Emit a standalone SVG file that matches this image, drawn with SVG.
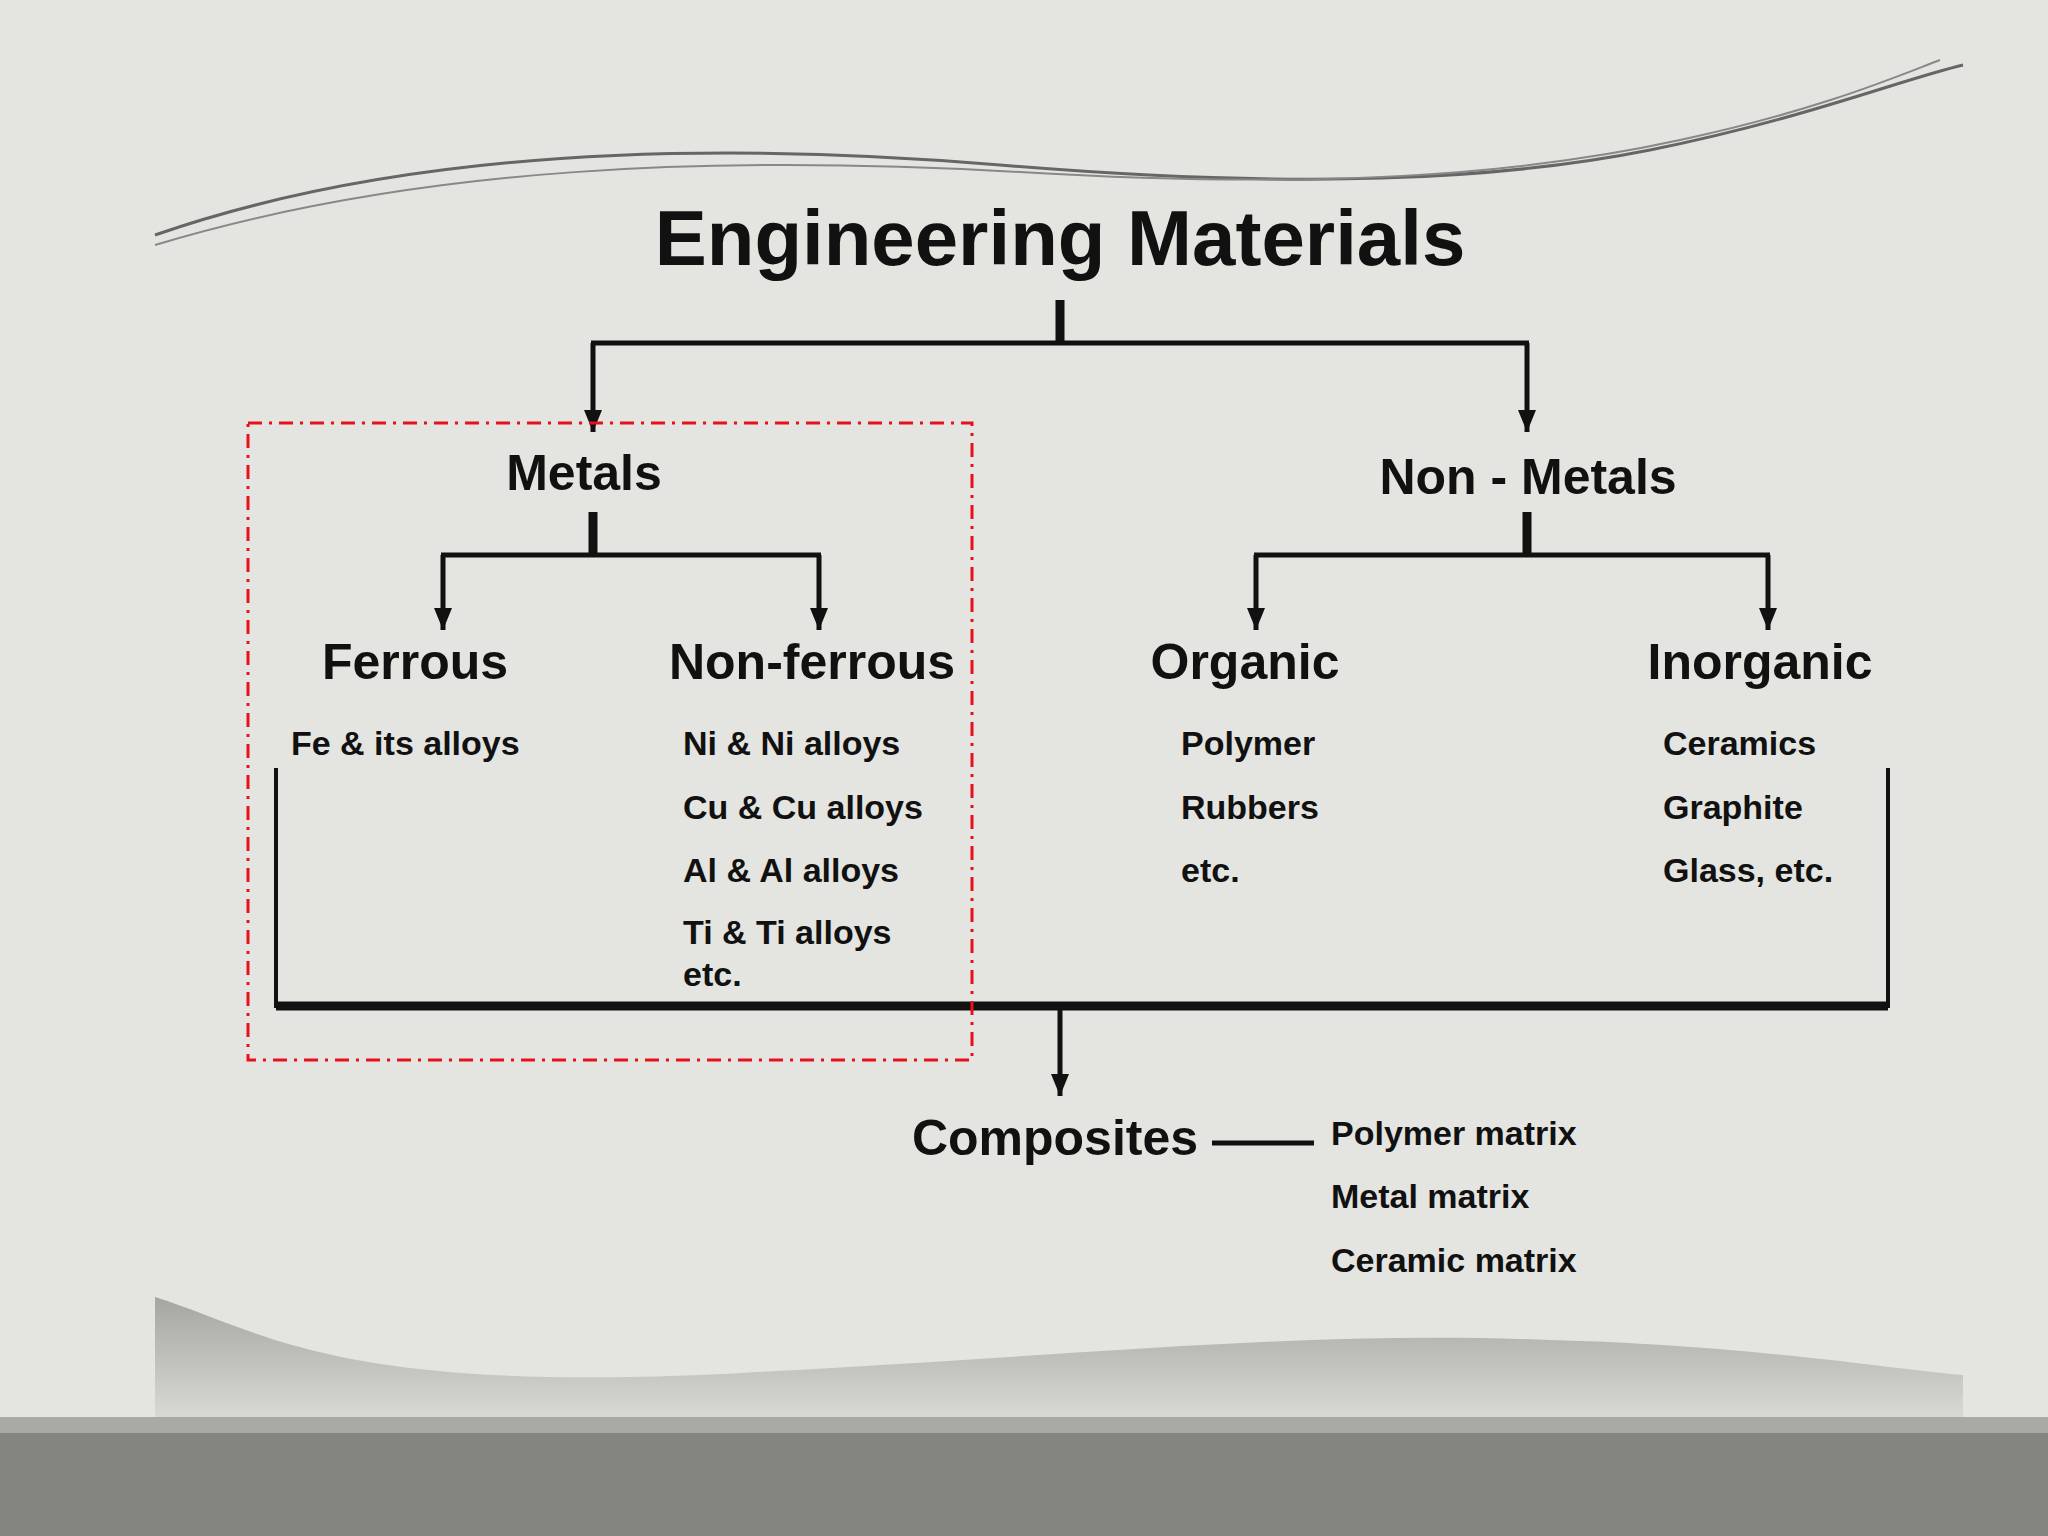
<svg xmlns="http://www.w3.org/2000/svg" width="2048" height="1536" viewBox="0 0 2048 1536">
<style>
.t{font-family:"Liberation Sans",Arial,sans-serif;font-weight:bold;fill:#111}
.h{font-size:50px}
.s{font-size:34px}
.ln{stroke:#111;stroke-width:5;fill:none}
.tk{stroke:#111;stroke-width:9;fill:none}
</style>
<defs>
<marker id="a" viewBox="0 0 10 10" refX="10" refY="5" markerWidth="22" markerHeight="18" markerUnits="userSpaceOnUse" orient="auto" preserveAspectRatio="none"><path d="M0,0L10,5L0,10z" fill="#111"/></marker>
<linearGradient id="g" x1="0" y1="0" x2="0" y2="1"><stop offset="0" stop-color="#a5a5a2"/><stop offset="1" stop-color="#d8d8d4"/></linearGradient>
</defs>
<rect width="2048" height="1536" fill="#e4e4e0"/>
<path d="M155,1297 C260,1330 330,1390 700,1375 C1100,1355 1300,1330 1550,1340 C1750,1345 1900,1370 1963,1375 L1963,1417 L155,1417 Z" fill="url(#g)"/>
<rect x="0" y="1417" width="2048" height="16" fill="#a9a9a5"/>
<rect x="0" y="1433" width="2048" height="103" fill="#858580"/>
<path d="M155,235 C400,150 700,140 1000,165 C1300,190 1500,180 1650,150 C1800,120 1900,80 1963,65" stroke="#666" stroke-width="3" fill="none"/>
<path d="M155,245 C420,165 720,155 1020,172 C1320,190 1520,175 1680,140 C1820,110 1900,75 1940,60" stroke="#888" stroke-width="2" fill="none"/>
<g id="title"><text class="t" x="1060" y="265" font-size="78" text-anchor="middle">Engineering Materials</text></g>
<g id="metals"><text class="t h" x="584" y="490" text-anchor="middle">Metals</text></g>
<g id="nonmetals"><text class="t h" x="1528" y="494" text-anchor="middle">Non - Metals</text></g>
<g id="ferrous"><text class="t h" x="415" y="679" text-anchor="middle">Ferrous</text>
<text class="t s" x="291" y="755">Fe &amp; its alloys</text></g>
<g id="nonferrous"><text class="t h" x="812" y="679" text-anchor="middle">Non-ferrous</text>
<text class="t s" x="683" y="755">Ni &amp; Ni alloys</text>
<text class="t s" x="683" y="819">Cu &amp; Cu alloys</text>
<text class="t s" x="683" y="882">Al &amp; Al alloys</text>
<text class="t s" x="683" y="944">Ti &amp; Ti alloys</text>
<text class="t s" x="683" y="986">etc.</text></g>
<g id="organic"><text class="t h" x="1245" y="679" text-anchor="middle">Organic</text>
<text class="t s" x="1181" y="755">Polymer</text>
<text class="t s" x="1181" y="819">Rubbers</text>
<text class="t s" x="1181" y="882">etc.</text></g>
<g id="inorganic"><text class="t h" x="1760" y="679" text-anchor="middle">Inorganic</text>
<text class="t s" x="1663" y="755">Ceramics</text>
<text class="t s" x="1663" y="819">Graphite</text>
<text class="t s" x="1663" y="882">Glass, etc.</text></g>
<g id="composites"><text class="t h" x="1055" y="1155" text-anchor="middle">Composites</text>
<text class="t s" x="1331" y="1145">Polymer matrix</text>
<text class="t s" x="1331" y="1208">Metal matrix</text>
<text class="t s" x="1331" y="1272">Ceramic matrix</text></g>
<g id="connectors">
<line class="tk" x1="1060" y1="300" x2="1060" y2="343"/>
<line class="ln" x1="591" y1="343" x2="1529" y2="343"/>
<line class="ln" x1="593" y1="343" x2="593" y2="432" marker-end="url(#a)"/>
<line class="ln" x1="1527" y1="343" x2="1527" y2="432" marker-end="url(#a)"/>
<line class="tk" x1="593" y1="512" x2="593" y2="555"/>
<line class="ln" x1="441" y1="555" x2="821" y2="555"/>
<line class="ln" x1="443" y1="555" x2="443" y2="630" marker-end="url(#a)"/>
<line class="ln" x1="819" y1="555" x2="819" y2="630" marker-end="url(#a)"/>
<line class="tk" x1="1527" y1="512" x2="1527" y2="555"/>
<line class="ln" x1="1254" y1="555" x2="1770" y2="555"/>
<line class="ln" x1="1256" y1="555" x2="1256" y2="630" marker-end="url(#a)"/>
<line class="ln" x1="1768" y1="555" x2="1768" y2="630" marker-end="url(#a)"/>
<polyline points="276,768 276,1006 1888,1006 1888,768" stroke="#111" stroke-width="4" fill="none"/>
<line x1="276" y1="1006" x2="1888" y2="1006" stroke="#111" stroke-width="9"/>
<line class="ln" x1="1060" y1="1010" x2="1060" y2="1096" marker-end="url(#a)"/>
<line class="ln" x1="1212" y1="1143" x2="1314" y2="1143"/>
</g>
<rect x="248" y="423" width="724" height="637" fill="none" stroke="#e8101a" stroke-width="3" stroke-dasharray="14,7,3,7"/>
</svg>
